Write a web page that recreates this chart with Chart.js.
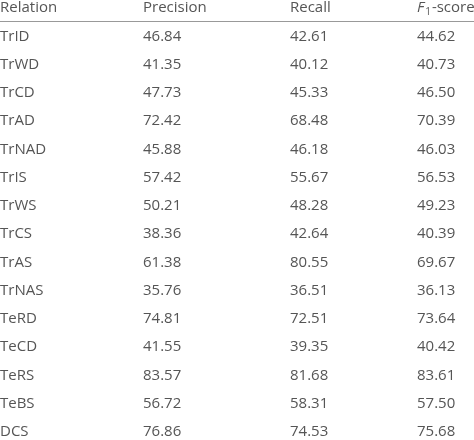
<!DOCTYPE html>
<html>
<head>
<meta charset="utf-8">
<script src="https://cdn.jsdelivr.net/npm/chart.js@4"></script>
<style>
  html, body { margin: 0; padding: 0; background: #fff; }
  #wrap { width: 474px; height: 440px; }
</style>
</head>
<body>
<div id="wrap"><canvas id="tabla"></canvas></div>
<script>
// Datos de la tabla
const relaciones = ['TrID', 'TrWD', 'TrCD', 'TrAD', 'TrNAD', 'TrIS', 'TrWS', 'TrCS', 'TrAS', 'TrNAS', 'TeRD', 'TeCD', 'TeRS', 'TeBS', 'DCS'];
const precision = [46.84, 41.35, 47.73, 72.42, 45.88, 57.42, 50.21, 38.36, 61.38, 35.76, 74.81, 41.55, 83.57, 56.72, 76.86];
const recall = [42.61, 40.12, 45.33, 68.48, 46.18, 55.67, 48.28, 42.64, 80.55, 36.51, 72.51, 39.35, 81.68, 58.31, 74.53];
const f1 = [44.62, 40.73, 46.50, 70.39, 46.03, 56.53, 49.23, 40.39, 69.67, 36.13, 73.64, 40.42, 83.61, 57.50, 75.68];
const encabezados = ['Relation', 'Precision', 'Recall', 'F1-score'];

const filas = ['header'].concat(relaciones);
const colX = [0, 143, 290, 417];
const fuente = '15px "Open Sans"';
const colorTexto = '#555';

const pluginTabla = {
    id: 'pluginTabla',
    afterDraw(chart) {
        const ctx = chart.ctx;
        const sx = chart.scales.x;
        const sy = chart.scales.y;
        ctx.save();
        ctx.fillStyle = colorTexto;
        ctx.textBaseline = 'middle';
        ctx.font = fuente;

        // Encabezado
        const yH = sy.getPixelForValue(0);
        for (let c = 0; c < 3; c++) {
            ctx.fillText(encabezados[c], sx.getPixelForValue(colX[c]), yH);
        }
        let x = sx.getPixelForValue(colX[3]);
        ctx.font = 'italic 15px "Open Sans"';
        ctx.fillText('F', x, yH);
        x += ctx.measureText('F').width + 1;
        ctx.font = '10px "Open Sans"';
        ctx.fillText('1', x, yH + 4);
        x += ctx.measureText('1').width + 1;
        ctx.font = fuente;
        ctx.fillText('-score', x, yH);

        // Línea bajo el encabezado
        ctx.strokeStyle = '#999';
        ctx.lineWidth = 1;
        ctx.beginPath();
        ctx.moveTo(0, 21.5);
        ctx.lineTo(chart.width, 21.5);
        ctx.stroke();

        // Filas
        for (let i = 0; i < relaciones.length; i++) {
            const y = sy.getPixelForValue(i + 1);
            ctx.fillText(relaciones[i], sx.getPixelForValue(colX[0]), y);
            ctx.fillText(precision[i].toFixed(2), sx.getPixelForValue(colX[1]), y);
            ctx.fillText(recall[i].toFixed(2), sx.getPixelForValue(colX[2]), y);
            ctx.fillText(f1[i].toFixed(2), sx.getPixelForValue(colX[3]), y);
        }
        ctx.restore();
    }
};

const puntos = relaciones.map((r, i) => ({ x: colX[0], y: r }));

new Chart(document.getElementById('tabla'), {
    type: 'scatter',
    data: {
        datasets: [{ data: puntos, pointRadius: 0, pointHoverRadius: 0 }]
    },
    options: {
        responsive: true,
        maintainAspectRatio: false,
        animation: false,
        layout: { padding: { top: 8, bottom: 8, left: 0, right: 0 } },
        plugins: { legend: { display: false }, tooltip: { enabled: false } },
        scales: {
            x: { type: 'linear', min: 0, max: 474, display: false },
            y: { type: 'category', labels: filas, offset: false, display: false }
        }
    },
    plugins: [pluginTabla]
});
</script>
</body>
</html>
